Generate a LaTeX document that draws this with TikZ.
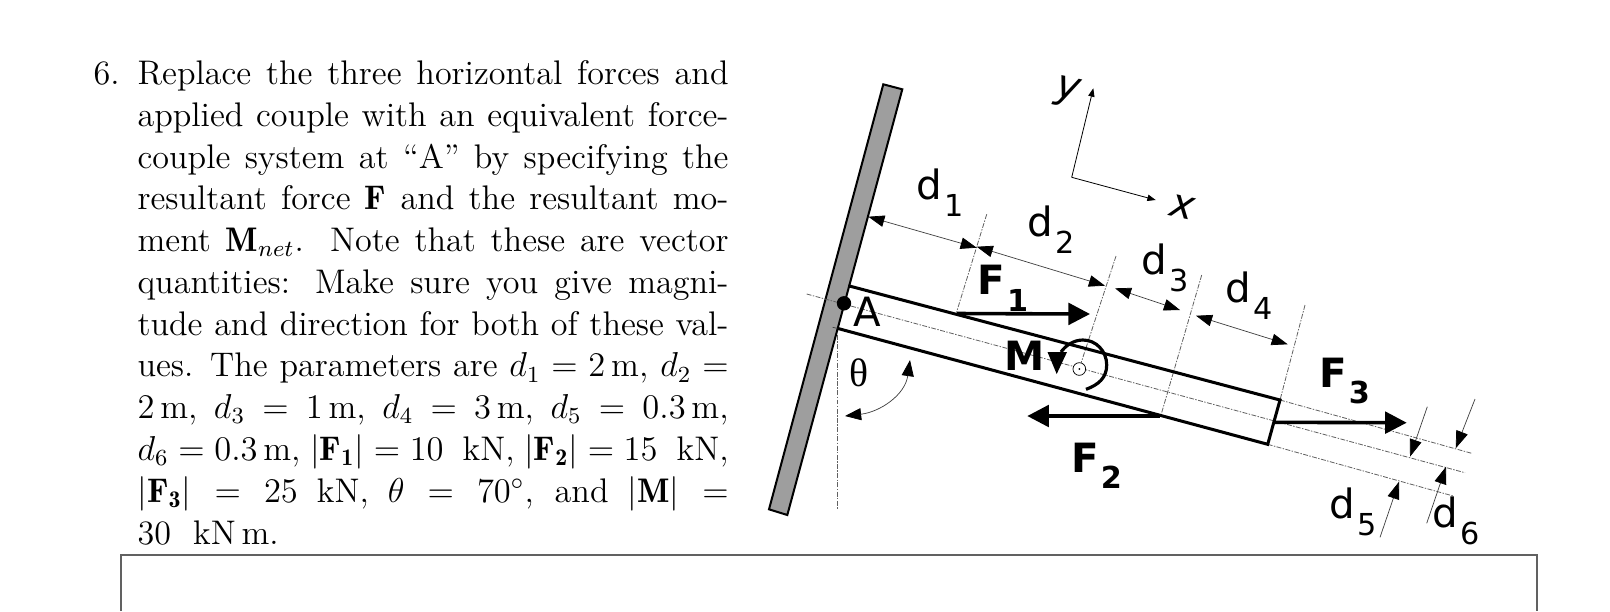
\documentclass[tikz,border=0pt,12pt]{standalone}
\usepackage{fontspec}
\usetikzlibrary{arrows.meta}
\newfontfamily\dvfont{DejaVu Sans}
\newfontfamily\thetafont{Liberation Serif}
\definecolor{wallgray}{gray}{0.62}
\definecolor{boxgray}{gray}{0.38}
\definecolor{thingray}{gray}{0.25}
\definecolor{chaingray}{gray}{0.38}
\newcommand{\dlab}[1]{d\hspace{0.9pt}\raisebox{-6pt}{\fontsize{10.5}{10.5}\selectfont #1}}
\newcommand{\flab}[2]{#1\hspace{0.6pt}\raisebox{-5.8pt}{\fontsize{10.5}{10.5}\selectfont #2}}
\tikzset{
  x=0.3472pt, y=-0.3472pt,
  lab/.style={inner sep=0pt, font=\dvfont\fontsize{14}{15}\selectfont},
  blab/.style={inner sep=0pt, font=\dvfont\bfseries\fontsize{14}{15}\selectfont},
  axlab/.style={inner sep=0pt, rotate=-12, font=\dvfont\itshape\fontsize{14}{15}\selectfont},
  dimarrow/.style={thingray, line width=0.25pt, {Triangle[length=5.6pt,width=4pt,color=black]}-{Triangle[length=5.6pt,width=4pt,color=black]}},
  leader/.style={thingray, line width=0.25pt, -{Triangle[length=6pt,width=4.2pt,color=black]}},
  axisarrow/.style={black, line width=0.28pt, -{Triangle[length=2.9pt,width=2.2pt]}},
  chain/.style={chaingray, line width=0.28pt, dash pattern=on 1.7pt off 0.5pt on 0.5pt off 0.5pt},
  beam/.style={black, line width=1.05pt, line cap=butt},
  force/.style={black, line width=1.25pt, -{Triangle[length=7.5pt,width=7.5pt]}},
}
\begin{document}
\begin{tikzpicture}
\useasboundingbox (0,0) rectangle (1610,611);
% problem text
\node[anchor=north west, inner sep=0pt, text width=205.2pt, align=justify] (problem) at (137,60)
{\fontsize{11.85}{14.5}\selectfont\noindent\llap{6.\hspace{6.2pt}}Replace the three horizontal forces and\linebreak
applied couple with an equivalent force-\linebreak
couple system at ``A'' by specifying the\linebreak
resultant force $\mathbf{F}$ and the resultant mo-\linebreak
ment $\mathbf{M}_{net}$.  Note that these are vector\linebreak
quantities:  Make sure you give magni-\linebreak
tude and direction for both of these val-\linebreak
ues.  The parameters are $d_1=2\,\mathrm{m}$, $d_2=$\linebreak
$2\,\mathrm{m}$, $d_3=1\,\mathrm{m}$, $d_4=3\,\mathrm{m}$, $d_5=0.3\,\mathrm{m}$,\linebreak
$d_6=0.3\,\mathrm{m}$, $|\mathbf{F_1}|=10$~~kN, $|\mathbf{F_2}|=15$~~kN,\linebreak
$|\mathbf{F_3}|=25$~kN, $\theta=70^\circ$, and $|\mathbf{M}|=$\linebreak
30~~kN\,m.\par};
% answer box
\draw[boxgray, line width=0.55pt] (121,611) -- (121,555) -- (1537,555) -- (1537,611);
% wall
\draw[fill=wallgray, draw=black, line width=0.7pt] (883.3,84.3) -- (902.3,89.3) -- (787.3,515) -- (769,509.3) -- cycle;
% centre lines and projections
\draw[chain] (806.7,294) -- (1465,472.7);
\draw[chain] (1280,400) -- (1471.7,453.3);
\draw[chain] (1267.7,444.3) -- (1453.3,496);
\draw[chain] (986.7,214.3) -- (956.7,311.7);
\draw[chain] (1116,256) -- (1079.3,368.3);
\draw[chain] (1201.7,275) -- (1160.7,416);
\draw[chain] (1305,305) -- (1280,400);
\draw[chain] (837,335) -- (837,510);
\draw[thingray, line width=0.25pt] (832.7,327.3) -- (838,328.5);
% beam
\draw[beam, line join=miter] (848.3,285.7) -- (1280,400) -- (1267.7,444.3) -- (837.3,328.3);
% point A
\node[circle, fill=black, inner sep=0pt, minimum size=5pt] (pointA) at (844,303.3) {};
\node[lab] (labA) at (867,311.5) {A};
% forces
\draw[force] (956.7,313.5) -- (1090,314);
\draw[force] (1160,416) -- (1027.3,416);
\draw[force] (1273.3,422.3) -- (1406.7,422.7);
\node[blab] (labF1) at (1003,288) {\flab{F}{1}};
\node[blab] (labF2) at (1096.7,465.7) {\flab{F}{2}};
\node[blab] (labF3) at (1344.7,381) {\flab{F}{3}};
% couple
\node[blab] (labM) at (1024.7,356) {M};
\node[circle, draw=black, fill=white, line width=0.25pt, inner sep=0pt, minimum size=4.4pt] (pivot) at (1079.3,369) {};
\fill[black] (pivot.center) circle (0.35pt);
\draw[black, line width=1.1pt] (1086,389.3) .. controls (1098,385) and (1106.7,378) .. (1106.7,365)
  .. controls (1106.7,351) and (1096,340) .. (1083,340)
  .. controls (1074,340) and (1066,345) .. (1061,352);
\fill[black] (1047.5,352) -- (1067,352) -- (1056.7,374) -- cycle;
% theta
\node[inner sep=0pt, font=\thetafont\fontsize{13.8}{14}\selectfont] (labT) at (859.3,373) {θ};
\draw[thingray, line width=0.25pt, {Triangle[length=5.6pt,width=4.2pt,color=black]}-{Triangle[length=5.6pt,width=4.2pt,color=black]}] (845,416) .. controls (880,412) and (905,395) .. (910,360);
% axes
\coordinate (origin) at (1071.7,177.3);
\draw[axisarrow] (origin) -- (1093.3,88.3);
\draw[axisarrow] (origin) -- (1155.7,200);
\node[axlab] (laby) at (1068,92) {y};
\node[axlab] (labx) at (1182,207) {x};
% dimensions along the beam
\draw[dimarrow] (868.3,216.7) -- (976.7,247.7);
\draw[dimarrow] (976.7,246.7) -- (1105,285.7);
\draw[dimarrow] (1115,288.3) -- (1180,310);
\draw[dimarrow] (1196,315.7) -- (1287.7,344.3);
\node[lab] (labd1) at (940.5,193) {\dlab{1}};
\node[lab] (labd2) at (1051,230) {\dlab{2}};
\node[lab] (labd3) at (1164.7,267.7) {\dlab{3}};
\node[lab] (labd4) at (1249.3,295.7) {\dlab{4}};
\node[lab] (labd5) at (1352.7,511.7) {\dlab{5}};
\node[lab] (labd6) at (1456,520.7) {\dlab{6}};
% offset leaders
\draw[leader] (1427.3,406.7) -- (1410,456.7);
\draw[leader] (1475,399) -- (1455.7,448.3);
\draw[leader] (1380,537.3) -- (1399,481.7);
\draw[leader] (1426.7,523.3) -- (1446,466.7);
\end{tikzpicture}
\end{document}
